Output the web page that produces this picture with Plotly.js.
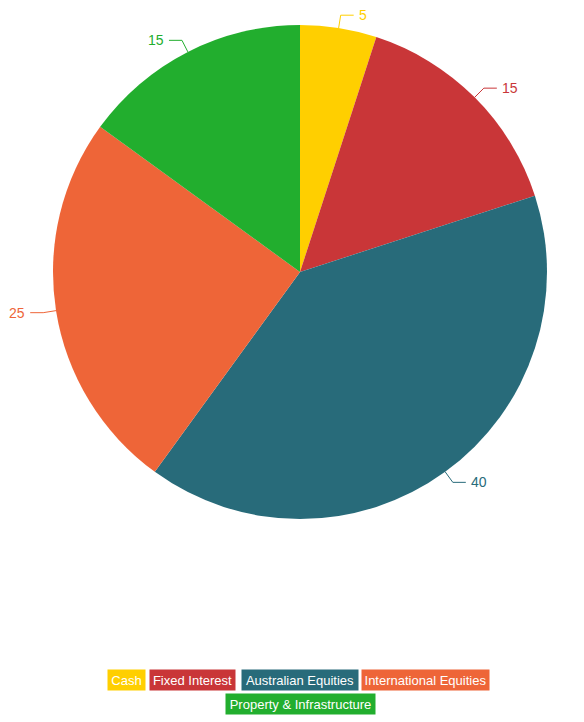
<!DOCTYPE html>
<html>
<head>
<meta charset="utf-8">
<script src="https://cdn.plot.ly/plotly-3.0.1.min.js"></script>
<style>
  html, body { margin: 0; padding: 0; background: #fff; }
  #chart { width: 584px; height: 722px; }
</style>
</head>
<body>
<div id="chart"></div>
<script>
// allocation data
const labels = ['Cash', 'Fixed Interest', 'Australian Equities', 'International Equities', 'Property & Infrastructure'];
const values = [5, 15, 40, 25, 15];
const colors = ['#FFCF00', '#C93638', '#286B7A', '#EE6538', '#22AE2E'];

const W = 584, H = 722;
const cx = 300, cy = 272, R = 247;
const FONT = '"Liberation Sans", Arial, sans-serif';

// px -> paper
const px = x => x / W;
const py = y => 1 - y / H;

// outside labels with leader lines, placed from the slice angles
const total = values.reduce((a, b) => a + b, 0);
const shapes = [];
const annotations = [];
let acc = 0;
values.forEach((v, i) => {
    const mid = (acc + v / 2) / total * 2 * Math.PI;
    acc += v;
    const s = Math.sin(mid), c = Math.cos(mid);
    const x1 = cx + R * s, y1 = cy - R * c;
    const x2 = cx + (R + 13) * s, y2 = cy - (R + 13) * c;
    const dir = s >= 0 ? 1 : -1;
    const x3 = x2 + dir * 13;
    shapes.push({
        type: 'path', xref: 'paper', yref: 'paper',
        path: `M ${px(x1)} ${py(y1)} L ${px(x2)} ${py(y2)} L ${px(x3)} ${py(y2)}`,
        line: { color: colors[i], width: 1 }
    });
    annotations.push({
        xref: 'paper', yref: 'paper',
        x: px(x3 + dir * 3), y: py(y2),
        xanchor: dir > 0 ? 'left' : 'right', yanchor: 'middle',
        text: String(v), showarrow: false,
        font: { family: FONT, size: 14, color: colors[i] }
    });
});

// legend drawn as coloured tags: [centre x, centre y, box width]
const legendPos = [[126.5, 680, 37], [192.5, 680, 85], [300, 680, 116], [425.5, 680, 127], [300.5, 703.5, 149]];
labels.forEach((lab, i) => {
    const [lx, ly, lw] = legendPos[i];
    annotations.push({
        xref: 'paper', yref: 'paper',
        x: px(lx), y: py(ly),
        xanchor: 'center', yanchor: 'middle',
        width: lw - 4, height: 16,
        text: lab, showarrow: false,
        bgcolor: colors[i], borderpad: 2,
        font: { family: FONT, size: 13, color: '#ffffff' }
    });
});

const data = [{
    type: 'pie',
    labels: labels,
    values: values,
    sort: false,
    direction: 'clockwise',
    rotation: 0,
    textinfo: 'none',
    hoverinfo: 'label+value',
    marker: { colors: colors, line: { width: 0 } },
    domain: { x: [px(cx - R), px(cx + R)], y: [py(cy + R), py(cy - R)] }
}];

const layout = {
    width: W,
    height: H,
    margin: { l: 0, r: 0, t: 0, b: 0 },
    showlegend: false,
    paper_bgcolor: '#ffffff',
    shapes: shapes,
    annotations: annotations
};

Plotly.newPlot('chart', data, layout, { displayModeBar: false });
</script>
</body>
</html>
